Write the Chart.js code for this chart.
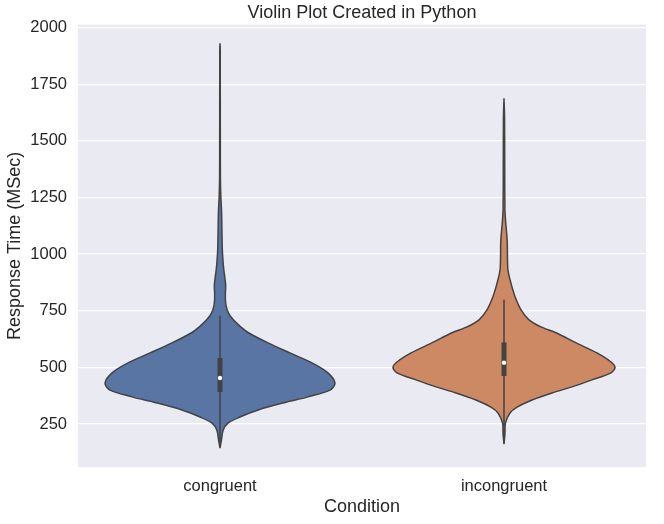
<!DOCTYPE html>
<html>
<head>
<meta charset="utf-8">
<script src="https://cdn.jsdelivr.net/npm/chart.js@4.4.0/dist/chart.umd.min.js"></script>
<style>
  html, body { margin: 0; padding: 0; background: #fff; }
</style>
</head>
<body>
<canvas id="violinChart" width="664" height="524"></canvas>
<script>
const categories = ['congruent', 'incongruent'];
const yTicks = [250, 500, 750, 1000, 1250, 1500, 1750, 2000];

// response time levels (MSec), bottom to top, and the violin half width at each level (category units)
const congruentLevels = [144, 179, 223, 254, 281, 312, 343, 370, 400, 431, 476, 520, 564, 608, 653, 680, 710, 740, 768, 800, 830, 860, 887, 925, 962, 1000, 1033, 1108, 1184, 1254, 1330, 1500, 1700, 1900, 1931];
const congruentHalf = [0, 0.005, 0.011, 0.028, 0.070, 0.134, 0.222, 0.310, 0.387, 0.405, 0.380, 0.324, 0.246, 0.169, 0.100, 0.072, 0.047, 0.030, 0.022, 0.019, 0.019, 0.020, 0.018, 0.014, 0.011, 0.009, 0.0078, 0.0067, 0.0056, 0.003, 0.0015, 0.0012, 0.001, 0.0008, 0];

const incongruentLevels = [161, 210, 254, 299, 325, 356, 387, 414, 445, 476, 500, 524, 564, 608, 653, 679, 710, 754, 812, 874, 930, 1000, 1050, 1100, 1150, 1200, 1400, 1600, 1688];
const incongruentHalf = [0, 0.0035, 0.005, 0.021, 0.046, 0.099, 0.169, 0.239, 0.310, 0.377, 0.391, 0.377, 0.327, 0.254, 0.183, 0.130, 0.088, 0.060, 0.039, 0.024, 0.014, 0.012, 0.0116, 0.0088, 0.0053, 0.0032, 0.0025, 0.002, 0];

// whisker low, q1, median, q3, whisker high
const congruentStats = [150, 392, 453, 542, 728];
const incongruentStats = [166, 462, 521, 610, 799];

const violinColors = ['#5875A3', '#CC8963'];
const lineGray = '#424242';

function violinOutline(center, levels, half) {
  const right = levels.map((y, i) => ({x: center + half[i], y: y}));
  const left = levels.map((y, i) => ({x: center - half[i], y: y})).reverse();
  return right.concat(left);
}

const violins = [
  {levels: congruentLevels, half: congruentHalf, stats: congruentStats},
  {levels: incongruentLevels, half: incongruentHalf, stats: incongruentStats}
];

const datasets = [];
violins.forEach((v, i) => {
  datasets.push({
    data: violinOutline(i, v.levels, v.half),
    showLine: true,
    fill: 'shape',
    backgroundColor: violinColors[i],
    borderColor: lineGray,
    borderWidth: 1.5,
    tension: 0.3,
    pointRadius: 0,
    order: 4
  });
  datasets.push({
    data: [{x: i, y: v.stats[0]}, {x: i, y: v.stats[4]}],
    showLine: true,
    borderColor: lineGray,
    borderWidth: 1.5,
    pointRadius: 0,
    order: 3
  });
  datasets.push({
    data: [{x: i, y: v.stats[1]}, {x: i, y: v.stats[3]}],
    showLine: true,
    borderColor: lineGray,
    borderWidth: 5,
    pointRadius: 0,
    order: 2
  });
  datasets.push({
    data: [{x: i, y: v.stats[2]}],
    pointRadius: 2.2,
    pointBorderWidth: 0,
    backgroundColor: '#ffffff',
    order: 1
  });
});

const plotBackground = {
  id: 'plotBackground',
  beforeDraw(chart) {
    const {ctx, chartArea} = chart;
    ctx.save();
    ctx.fillStyle = '#EAEAF2';
    ctx.fillRect(chartArea.left, chartArea.top, chartArea.width, chartArea.height);
    ctx.restore();
  }
};

Chart.defaults.font.family = "'Liberation Sans', Arial, sans-serif";
Chart.defaults.color = '#262626';

new Chart(document.getElementById('violinChart'), {
  type: 'scatter',
  data: {datasets: datasets},
  plugins: [plotBackground],
  options: {
    responsive: false,
    animation: false,
    devicePixelRatio: 1,
    layout: {padding: {left: 0, right: 18, top: 0, bottom: 0}},
    plugins: {
      legend: {display: false},
      tooltip: {enabled: false},
      title: {
        display: true,
        fullSize: false,
        text: 'Violin Plot Created in Python',
        font: {size: 18, weight: 'normal'},
        color: '#262626',
        padding: {top: 2, bottom: 1}
      }
    },
    scales: {
      x: {
        type: 'linear',
        min: -0.5,
        max: 1.5,
        afterBuildTicks: axis => { axis.ticks = categories.map((c, i) => ({value: i})); },
        ticks: {
          callback: value => categories[value],
          font: {size: 16.5},
          color: '#262626',
          padding: 9,
          maxRotation: 0
        },
        grid: {display: false, drawTicks: false},
        border: {display: false},
        title: {
          display: true,
          text: 'Condition',
          font: {size: 18},
          color: '#262626',
          padding: {top: -9, bottom: 6.5}
        }
      },
      y: {
        min: 60,
        max: 2013,
        afterBuildTicks: axis => { axis.ticks = yTicks.map(v => ({value: v})); },
        ticks: {
          callback: value => String(value),
          font: {size: 16.5},
          color: '#262626',
          padding: 11
        },
        grid: {color: '#ffffff', lineWidth: 1.3, drawTicks: false},
        border: {display: false},
        title: {
          display: true,
          text: 'Response Time (MSec)',
          font: {size: 18},
          color: '#262626',
          padding: {top: 4, bottom: -6.3}
        }
      }
    }
  }
});
</script>
</body>
</html>
